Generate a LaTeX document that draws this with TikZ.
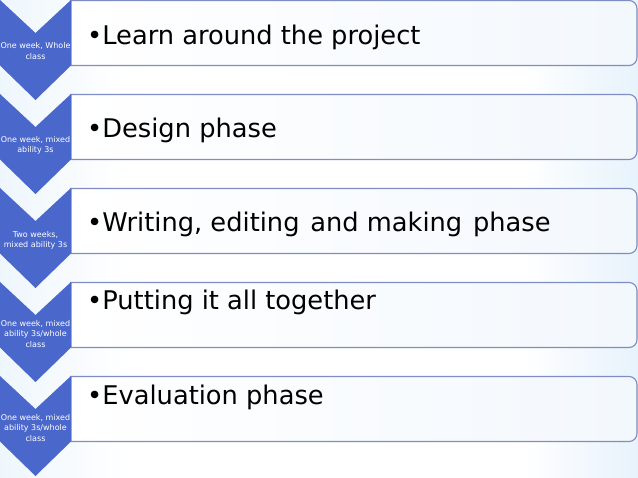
\documentclass[tikz,border=0pt]{standalone}
\usepackage{fontspec}
\setmainfont{DejaVu Sans}
\definecolor{chevblue}{HTML}{4A67CB}
\definecolor{boxline}{HTML}{7F8DC2}
\definecolor{boxtint}{HTML}{F3F8FD}
\definecolor{skyleft}{HTML}{C4E1F6}
\definecolor{skyright}{HTML}{A4D0F2}
\pgfdeclarehorizontalshading{skywash}{100bp}{color(0bp)=(skyleft); color(35bp)=(white);
    color(66bp)=(white); color(100bp)=(skyright)}

\begin{document}
\begin{tikzpicture}[x=1pt, y=-1pt,
    chevtext/.style={text=white, align=center, inner sep=0pt, font=\fontsize{8}{10.4}\selectfont},
    phasetext/.style={anchor=base west, inner sep=0pt, font=\fontsize{25.7}{30}\selectfont},
    phasebox/.style={draw=boxline, line width=1.1pt, left color=white, right color=boxtint}]
    % 1. Background with the pale blue wash
    \useasboundingbox (0,0) rectangle (638,478);
    \shade[shading=skywash] (0,0) rectangle (638,478);

    % 2. Boxes (rounded on the right only) and the chevrons in front of them
    \foreach \t in {0,94,188,282,376} {
        \path[phasebox] (71,\t+0.5) [rounded corners=8pt] -- (637,\t+0.5) -- (637,\t+65.5)
            [sharp corners] -- (71,\t+65.5) -- cycle;
        \fill[chevblue] (0,\t) -- (35.5,\t+33) -- (71,\t) -- (71,\t+65.5)
            -- (35.5,\t+100) -- (0,\t+65.5) -- cycle;
    }

    % 3. Durations on the chevrons
    \node[chevtext] (dur1) at (35.5,51) {One week, Whole\\class};
    \node[chevtext] (dur2) at (35.5,145) {One week, mixed\\ability 3s};
    \node[chevtext] (dur3) at (35.5,240) {Two weeks,\\mixed ability 3s};
    \node[chevtext] (dur4) at (35.5,334) {One week, mixed\\ability 3s/whole\\class};
    \node[chevtext] (dur5) at (35.5,428) {One week, mixed\\ability 3s/whole\\class};

    % 4. Phases in the boxes
    \node[phasetext] (phase1) at (87,45) {•Learn around the project};
    \node[phasetext] (phase2) at (87,138) {•Design phase};
    \node[phasetext] (phase3) at (87,232) {•Writing, editing\hspace{0.1em} and making\hspace{0.1em} phase};
    \node[phasetext] (phase4) at (87,310) {•Putting it all together};
    \node[phasetext] (phase5) at (87,405) {•Evaluation phase};
\end{tikzpicture}
\end{document}
